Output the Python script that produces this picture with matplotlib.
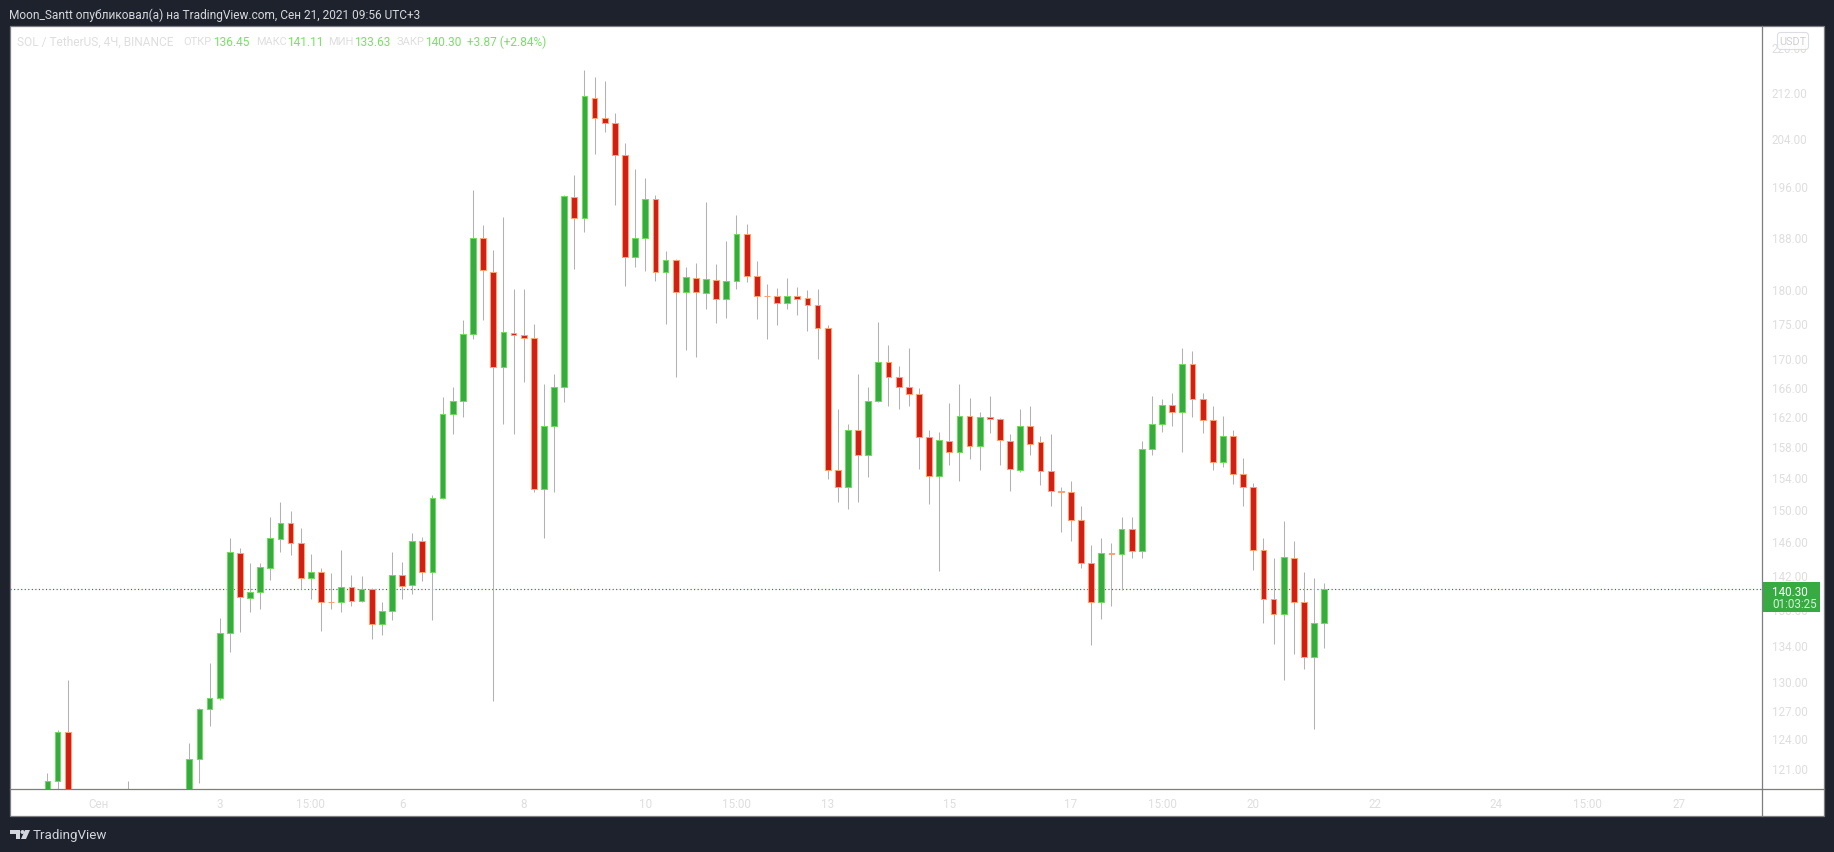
#!/usr/bin/env python3

import matplotlib
matplotlib.use("Agg")
import matplotlib.pyplot as plt
from matplotlib.patches import Rectangle, FancyBboxPatch, Polygon, Circle
from matplotlib.ticker import NullLocator, NullFormatter

plt.rcParams['font.family'] = ['Roboto', 'DejaVu Sans']

#- 4h candles, SOL/USDT. The ones from index 3 to 13 sit under the visible range
opens = [118.5,119.7,124.7,116.5,114,115,113.5,112,114,113,115,116,115,116,
         117,121.9,127.1,128.2,135.3,144.6,139.3,140.0,142.8,146.3,148.3,145.8,141.6,142.3,
         138.9,138.9,140.6,139.0,140.3,136.3,137.8,142.0,140.8,146.0,142.3,151.3,162.3,164.1,
         173.4,187.8,182.5,168.8,173.6,173.3,172.9,152.5,160.7,166.0,194.3,190.9,211.0,207.5,
         206.6,201.2,184.9,187.8,194.0,182.5,184.4,179.5,181.6,179.4,181.3,178.6,181.2,188.4,
         182.0,179.0,179.0,177.9,178.9,178.7,177.6,174.3,154.9,152.8,160.1,156.9,164.0,169.5,
         167.3,165.9,165.0,159.2,154.1,158.7,157.2,162.0,158.0,161.9,161.6,158.7,154.9,160.7,
         158.5,154.8,152.2,152.1,148.6,143.4,138.9,144.6,144.5,147.5,144.8,157.6,161.0,163.5,
         162.5,169.1,164.3,161.5,156.0,159.3,154.4,152.7,145.0,139.2,137.5,144.0,138.9,132.7,
         136.45]
highs = [120.5,124.9,130.1,117.5,116,117,115,115,119.7,116,117,117.5,117,118,
         123.5,127.2,132.0,137.0,146.4,145.2,143.4,143.4,149.0,150.9,149.7,147.6,144.5,142.8,
         142.2,145.0,142.0,141.9,140.5,138.9,144.7,143.5,147.0,146.6,151.7,164.6,166.0,175.4,
         195.4,189.8,185.9,191.1,180.0,180.0,174.9,166.4,167.8,194.6,197.9,215.9,214.6,213.9,
         208.3,203.2,198.9,197.4,194.6,185.8,184.5,183.3,183.9,193.5,183.8,187.3,191.4,190.0,
         184.2,180.7,180.2,181.6,180.3,179.8,180.0,174.7,163.0,161.0,167.7,165.9,175.1,171.8,
         168.9,171.4,165.8,160.2,159.9,163.8,166.4,164.4,162.5,164.7,161.8,159.6,162.9,163.4,
         159.3,159.6,152.8,153.5,150.4,145.6,146.4,145.8,149.0,149.0,158.7,164.7,164.3,165.1,
         171.4,171.0,165.2,163.4,162.0,160.2,156.5,153.3,146.4,144.0,148.5,146.0,142.3,141.7,
         141.11]
lows = [118,118,115,113,112,113,111,110,112,111,113,114,113,114,
        116,119.5,125.3,128.0,133.2,135.4,137.7,138.1,141.4,144.7,144.4,140.3,139.2,135.6,
        138.1,137.7,138.4,138.9,134.6,135.1,136.8,139.2,139.8,141.3,136.8,151.2,159.6,161.9,
        172.7,175.4,127.9,161.0,159.6,166.6,152.1,146.4,152.1,163.9,183.0,188.7,201.3,205.1,
        193.0,180.4,183.4,182.7,181.2,174.9,167.4,171.1,170.2,177.1,175.0,175.7,180.0,181.1,
        175.6,172.7,174.7,177.1,176.2,173.9,169.9,153.8,150.9,150.0,150.8,154.0,163.9,163.4,
        163.0,163.4,155.0,150.6,142.5,155.5,153.5,156.3,154.9,159.8,155.5,152.2,154.6,156.8,
        153.0,150.3,147.2,146.0,142.8,134.0,136.9,138.4,140.2,144.0,144.0,156.9,159.9,160.7,
        157.3,161.9,159.7,154.9,155.3,153.1,150.3,142.6,136.4,134.1,130.1,133.0,131.3,125.0,
        133.63]
closes = [119.7,124.7,116.5,114,115,113.5,112,114,113,115,116,115,116,117,
          121.9,127.1,128.2,135.3,144.7,139.4,140.0,142.9,146.4,148.3,145.8,141.6,142.3,138.9,
          138.8,140.6,139.0,140.3,136.3,137.8,142.0,140.7,146.0,142.3,151.3,162.3,164.1,173.4,
          187.8,182.8,168.7,173.7,173.3,172.9,152.5,160.7,166.0,194.5,190.9,211.3,207.5,206.6,
          201.2,184.9,187.8,194.0,182.5,184.4,179.5,181.8,179.5,181.5,178.6,181.2,188.4,182.0,
          179.0,178.9,177.9,179.0,178.6,177.6,174.3,154.9,152.8,160.1,156.9,164.0,169.4,167.3,
          165.9,165.0,159.2,154.1,158.8,157.2,162.0,158.0,161.9,161.6,158.8,155.1,160.7,158.3,
          154.8,152.2,152.1,148.6,143.4,138.9,144.6,144.5,147.5,144.8,157.6,161.0,163.5,162.5,
          169.1,164.3,161.5,156.0,159.3,154.4,152.7,145.0,139.2,137.5,144.1,138.9,132.7,136.4,
          140.30]

price_ticks = [121,124,127,130,134,138,142,146,150,154,158,162,166,170,175,180,188,196,204,212,220]
date_pos = [5,17,26,35,47,59,68,77,89,101,110,119,131,143,152,161]
date_labels = ["Сен","3","15:00","6","8","10","15:00","13","15","17","15:00","20","22","24","15:00","27"]

W,H = 1834,853
BG = "#1e222d"
GREEN,GREEN_EDGE = "#37ab42","#6fdc5a"
RED,RED_EDGE = "#d21f15","#ffa070"
WICK = "#b2b2b2"
FAINT = "#dedede"
LINE = "#7d7e83"
NUM = "#78e066"

def axPos(x0,y0,x1,y1):
    return [x0/W,1-y1/H,(x1-x0)/W,(y1-y0)/H]

fig = plt.figure(figsize=(W/100,H/100),dpi=100,facecolor=BG)

#- White panel behind the chart
bg = fig.add_axes([0,0,1,1],zorder=0)
bg.set_xlim(0,W)
bg.set_ylim(H,0)
bg.axis("off")
bg.add_patch(Rectangle((10,27),1814,790,facecolor="white",edgecolor=LINE,lw=0.9))

ax = fig.add_axes(axPos(10,27,1762,790),zorder=1)
ax.patch.set_alpha(0)
ax.set_yscale("log")

x = list(range(len(closes)))
ax.vlines(x,lows,highs,color=WICK,lw=0.75,zorder=2)
for i in x:
    up = closes[i] >= opens[i]
    ax.bar(i,abs(closes[i]-opens[i]),bottom=min(opens[i],closes[i]),width=0.57,
           facecolor=GREEN if up else RED,edgecolor=GREEN_EDGE if up else RED_EDGE,lw=0.75,zorder=3)

ax.axhline(closes[-1],color="#1f8a30",ls=(0,(1,2)),lw=0.85,zorder=1)

ax.set_xlim(-3.69,169.2)
ax.set_ylim(118.9,223.9)
ax.yaxis.tick_right()
ax.yaxis.set_minor_locator(NullLocator())
ax.yaxis.set_minor_formatter(NullFormatter())
ax.set_yticks(price_ticks,["%.2f" % p for p in price_ticks])
ax.set_xticks(date_pos,date_labels)
ax.tick_params(axis="y",length=0,pad=7,labelsize=8.4,labelcolor=FAINT)
ax.tick_params(axis="x",length=0,pad=5.5,labelsize=8.4,labelcolor=FAINT)
for s in ["top","left","right"]:
    ax.spines[s].set_visible(False)
ax.spines["bottom"].set_color(LINE)
ax.spines["bottom"].set_linewidth(0.9)

#- Everything around the plot, in pixels of the picture
over = fig.add_axes([0,0,1,1],zorder=2)
over.patch.set_alpha(0)
over.set_xlim(0,W)
over.set_ylim(H,0)
over.axis("off")
over.plot([1762,1762],[27,817],color=LINE,lw=0.9)
over.plot([1762,1824],[790,790],color=LINE,lw=0.9)

over.text(9,15,"Moon_Santt опубликовал(а) на TradingView.com, Сен 21, 2021 09:56 UTC+3",
          color="#d6d8dc",fontsize=8.6,va="center")

legend_parts = [(17,"SOL / TetherUS, 4Ч, BINANCE",FAINT,8.6),(183,"ОТКР",FAINT,8.0),(213,"136.45",NUM,8.6),
                (256,"МАКС",FAINT,7.8),(287,"141.11",NUM,8.6),(328,"МИН",FAINT,8.0),(354,"133.63",NUM,8.6),
                (397,"ЗАКР",FAINT,8.0),(425,"140.30",NUM,8.6),(467,"+3.87 (+2.84%)",NUM,8.6)]
for px,s,col,size in legend_parts:
    over.text(px,42,s,color=col,fontsize=size,va="center")

#- Unit badge
over.add_patch(FancyBboxPatch((1779,35),28,14,boxstyle="round,pad=1.5,rounding_size=3",
                              facecolor="white",alpha=0.85,edgecolor="#d8d8e2",lw=0.8))
over.text(1793,42,"USDT",color="#cfcfd6",fontsize=7.8,ha="center",va="center")

#- Last price badge
over.add_patch(Rectangle((1762,583),58,30,facecolor=GREEN,edgecolor="none"))
over.text(1772,592,"%.2f" % closes[-1],color="white",fontsize=8.4,va="center")
over.text(1772,605,"01:03:25",color="#d8f0da",fontsize=8.4,va="center")

#- Footer logo
logo = "#d3d6dc"
over.add_patch(Polygon([(10,831),(20,831),(20,840),(15.5,840),(15.5,835),(10,835)],facecolor=logo,edgecolor="none"))
over.add_patch(Circle((22.5,833),2,facecolor=logo,edgecolor="none"))
over.add_patch(Polygon([(25,831),(30,831),(26,840),(21,840)],facecolor=logo,edgecolor="none"))
over.text(33,835.5,"TradingView",color=logo,fontsize=9.6,va="center")

fig.savefig("out.png",dpi=100,facecolor=BG)
